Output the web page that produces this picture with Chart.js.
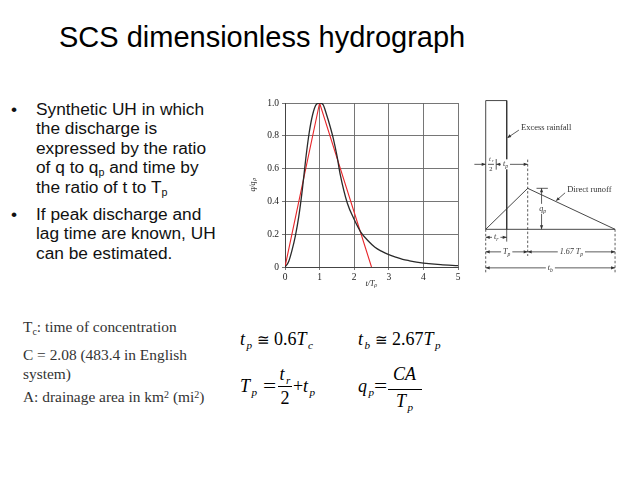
<!DOCTYPE html>
<html>
<head>
<meta charset="utf-8">
<script src="https://cdn.jsdelivr.net/npm/chart.js@4.4.0/dist/chart.umd.min.js"></script>
<style>
  html, body { margin:0; padding:0; background:#fff; }
  body { width:638px; height:478px; position:relative; overflow:hidden; }
  .abs { position:absolute; white-space:nowrap; }
  .title { font-family:"Liberation Sans", Arial, sans-serif; font-size:29px; line-height:30px; color:#000; }
  .bul { font-family:"Liberation Sans", Arial, sans-serif; font-size:17.3px; line-height:19.4px; color:#111; }
  .bul sub { font-size:0.62em; vertical-align:-0.25em; line-height:0; }
  .ser { font-family:"Liberation Serif", "Times New Roman", serif; font-size:15.4px; line-height:1; color:#333; }
  .ser sub { font-size:0.65em; vertical-align:-0.25em; line-height:0; }
  .ser sup { font-size:0.65em; vertical-align:0.45em; line-height:0; }
  .eq { font-family:"Liberation Serif", "Times New Roman", serif; font-size:18px; line-height:1; color:#000; }
  .eq i { font-style:italic; }
  .eq sub { font-size:0.62em; vertical-align:-0.35em; line-height:0; font-style:italic; margin-left:1.5px; }
  .wide { display:inline-block; transform:scaleX(1.3); transform-origin:left center; }
  .sym { font-family:"DejaVu Serif", serif; font-size:15px; }
  canvas { position:absolute; }
</style>
</head>
<body>
<div class="abs title" style="left:59px; top:22px;">SCS dimensionless hydrograph</div>

<div class="abs bul" style="left:11px; top:100px;">•</div>
<div class="abs bul" style="left:36px; top:100px;">Synthetic UH in which<br>the discharge is<br>expressed by the ratio<br>of q to q<sub>p</sub> and time by<br>the ratio of t to T<sub>p</sub></div>
<div class="abs bul" style="left:11px; top:205px;">•</div>
<div class="abs bul" style="left:36px; top:205px;">If peak discharge and<br>lag time are known, UH<br>can be estimated.</div>

<div class="abs ser" style="left:23px; top:319px;">T<sub>c</sub>: time of concentration</div>
<div class="abs ser" style="left:23px; top:347px;">C = 2.08 (483.4 in English</div>
<div class="abs ser" style="left:23px; top:366px;">system)</div>
<div class="abs ser" style="left:23px; top:389px;">A: drainage area in km<sup>2</sup> (mi<sup>2</sup>)</div>

<div class="abs eq" style="left:240px; top:330px;"><i>t</i><sub>p</sub> <span class="sym">≅</span> 0.6<i>T</i><sub>c</sub></div>
<div class="abs eq" style="left:358px; top:330px;"><i>t</i><sub>b</sub> <span class="sym">≅</span> 2.67<i>T</i><sub>p</sub></div>

<div class="abs eq" style="left:240px; top:377px;"><i>T</i><sub>p</sub></div>
<div class="abs eq" style="left:263px; top:377px;"><span class="wide">=</span></div>
<div class="abs eq" style="left:275px; top:365px; width:20px; text-align:center;"><i>t</i><sub>r</sub></div>
<div class="abs" style="left:278px; top:386px; width:14px; height:1px; background:#000;"></div>
<div class="abs eq" style="left:275px; top:389px; width:20px; text-align:center;">2</div>
<div class="abs eq" style="left:293px; top:377px;">+</div>
<div class="abs eq" style="left:303px; top:377px;"><i>t</i><sub>p</sub></div>

<div class="abs eq" style="left:358px; top:377px;"><i>q</i><sub>p</sub></div>
<div class="abs eq" style="left:374px; top:377px;"><span class="wide">=</span></div>
<div class="abs eq" style="left:386px; top:365px; width:37px; text-align:center;"><i>CA</i></div>
<div class="abs" style="left:388px; top:389px; width:34px; height:1px; background:#000;"></div>
<div class="abs eq" style="left:386px; top:392px; width:37px; text-align:center;"><i>T</i><sub>p</sub></div>

<canvas id="hydro" style="left:240px; top:92px;" width="225" height="200"></canvas>
<canvas id="schem" style="left:470px; top:90px;" width="160" height="200"></canvas>

<script>
// ---- Dimensionless unit hydrograph ----
const tRatio = [0,0.1,0.2,0.3,0.4,0.5,0.6,0.7,0.8,0.9,1.0,1.1,1.2,1.3,1.4,1.5,1.6,1.8,2.0,2.2,2.4,2.6,2.8,3.0,3.2,3.4,3.6,3.8,4.0,4.5,5.0];
const qRatio = [0,0.03,0.10,0.19,0.31,0.47,0.66,0.82,0.93,0.99,1.00,0.99,0.93,0.86,0.78,0.68,0.56,0.39,0.29,0.21,0.16,0.12,0.095,0.075,0.06,0.047,0.038,0.03,0.024,0.014,0.008];
// Triangular approximation (red)
const triT = [0, 1, 2.5];
const triQ = [0, 1, 0];
// Axis ticks
const xTicks = [0,1,2,3,4,5];
const yTicks = [0,0.2,0.4,0.6,0.8,1.0];

// ---- Schematic triangular UH (drawn units: Tp = 1, qp = 1) ----
const rainSpan = [0, 0.5];      // t_r
const rainDepth = 3.14;
const peakT = 1;                // T_p
const baseT = 3.08;             // t_b (as drawn)
const peakQ = 1;                // q_p

const serif = "'Liberation Serif', 'Times New Roman', serif";

new Chart(document.getElementById('hydro'), {
  type: 'scatter',
  data: {
    datasets: [
      { data: tRatio.map((t,i)=>({x:t, y:qRatio[i]})), showLine:true, borderColor:'#2a2a2a', borderWidth:1.3,
        pointRadius:0, cubicInterpolationMode:'monotone', fill:false },
      { data: triT.map((t,i)=>({x:t, y:triQ[i]})), showLine:true, borderColor:'#e8262a', borderWidth:1.1,
        pointRadius:0, tension:0, fill:false }
    ]
  },
  options: {
    responsive:false, animation:false, events:[],
    layout:{ padding:{ left:8, top:11, right:7, bottom:0 } },
    plugins:{ legend:{display:false}, tooltip:{enabled:false} },
    scales:{
      x:{ type:'linear', min:0, max:5,
          afterFit:(s)=>{ s.height = 25; },
          afterBuildTicks:(s)=>{ s.ticks = xTicks.map(v=>({value:v})); },
          ticks:{ font:{family:serif, size:9.5}, color:'#222', padding:2, maxRotation:0 },
          grid:{ color:'#666', lineWidth:0.9, tickLength:3, drawTicks:true },
          border:{ color:'#444', width:1 },
          title:{ display:true, text:'t/Tₚ', font:{family:serif, size:8, style:'italic'}, color:'#222', padding:{top:0,bottom:3} } },
      y:{ type:'linear', min:0, max:1,
          afterFit:(s)=>{ s.width = 37; },
          afterBuildTicks:(s)=>{ s.ticks = yTicks.map(v=>({value:v})); },
          ticks:{ font:{family:serif, size:9.5}, color:'#222', padding:3,
                  callback:(v)=> v===0 ? '0' : v.toFixed(1) },
          grid:{ color:'#666', lineWidth:0.9, tickLength:3, drawTicks:true },
          border:{ color:'#444', width:1 },
          title:{ display:true, text:'q/qₚ', font:{family:serif, size:8, style:'italic'}, color:'#222', padding:{top:0,bottom:0} } }
    }
  }
});

// Schematic annotations plugin
const schemPlugin = {
  id:'schem',
  afterDatasetsDraw(chart){
    const ctx = chart.ctx, xs = chart.scales.x, ys = chart.scales.y;
    const X = v=>xs.getPixelForValue(v), Y = v=>ys.getPixelForValue(v);
    const trRow=-0.195, TpRow=-0.55, tbRow=-0.94, topRow=1.585;
    ctx.save();
    ctx.strokeStyle='#333'; ctx.fillStyle='#333'; ctx.lineWidth=0.8;
    function line(x1,y1,x2,y2,dash){ ctx.beginPath(); ctx.setLineDash(dash||[]); ctx.moveTo(x1,y1); ctx.lineTo(x2,y2); ctx.stroke(); ctx.setLineDash([]); }
    function head(xt,yt,xf,yf){ const a=Math.atan2(yt-yf,xt-xf), L=4, W=1.6;
      ctx.beginPath(); ctx.moveTo(xt,yt);
      ctx.lineTo(xt-L*Math.cos(a)+W*Math.sin(a), yt-L*Math.sin(a)-W*Math.cos(a));
      ctx.lineTo(xt-L*Math.cos(a)-W*Math.sin(a), yt-L*Math.sin(a)+W*Math.cos(a));
      ctx.closePath(); ctx.fill(); }
    function dim(a,b,row){ const y=Y(row); line(X(a),y,X(b),y); head(X(a),y,X(b),y); head(X(b),y,X(a),y); }
    function label(txt,sub,x,y,bg,size){
      ctx.font='italic '+(size||8)+'px '+serif;
      const w1=ctx.measureText(txt).width;
      ctx.font='italic '+((size||8)*0.7)+'px '+serif;
      const w2=sub?ctx.measureText(sub).width:0;
      const w=w1+w2, x0=x-w/2;
      if(bg){ ctx.fillStyle='#fff'; ctx.fillRect(x0-2,y-5,w+4,10); ctx.fillStyle='#333'; }
      ctx.textBaseline='middle'; ctx.textAlign='left';
      ctx.font='italic '+(size||8)+'px '+serif; ctx.fillText(txt,x0,y);
      if(sub){ ctx.font='italic '+((size||8)*0.7)+'px '+serif; ctx.fillText(sub,x0+w1,y+2.5); }
    }
    // extension lines
    line(X(peakT),Y(1.7),X(peakT),Y(-0.65),[2.5,2]);
    line(X(baseT),Y(0),X(baseT),Y(-1.05),[2.5,2]);
    line(X(rainSpan[0]),Y(0),X(rainSpan[0]),Y(-1.05),[2.5,2]);
    line(X(rainSpan[1]),Y(0),X(rainSpan[1]),Y(-0.3));
    // dimension lines
    dim(rainSpan[0],rainSpan[1],trRow); label('t','r',X(0.25),Y(trRow),true);
    dim(0,peakT,TpRow); label('T','p',X(0.5),Y(TpRow),true);
    dim(peakT,baseT,TpRow); label('1.67 T','p',X((peakT+baseT)/2),Y(TpRow),true);
    dim(0,baseT,tbRow); label('t','b',X(baseT/2),Y(tbRow),true);
    // top row: t_r/2 and t_p
    const half=(rainSpan[0]+rainSpan[1])/2;
    line(X(-0.27),Y(topRow),X(0),Y(topRow)); head(X(0),Y(topRow),X(-0.27),Y(topRow));
    line(X(half),Y(topRow+0.13),X(half),Y(topRow-0.13));
    dim(half,peakT,topRow); label('t','p',X(0.47),Y(topRow),true);
    // fraction t_r / 2
    ctx.fillStyle='#333'; ctx.font='italic 6.5px '+serif; ctx.textAlign='center'; ctx.textBaseline='middle';
    ctx.fillText('t',X(half/2)-1,Y(topRow)-5); ctx.font='italic 4.5px '+serif; ctx.fillText('r',X(half/2)+1.8,Y(topRow)-3.8);
    line(X(half/2)-3,Y(topRow),X(half/2)+3,Y(topRow));
    ctx.font='6.5px '+serif; ctx.fillText('2',X(half/2),Y(topRow)+4.5);
    // q_p marker
    line(X(1.21),Y(peakQ),X(1.48),Y(peakQ));
    const qx=X(1.33); line(qx,Y(peakQ),qx,Y(0)); head(qx,Y(peakQ),qx,Y(0)); head(qx,Y(0),qx,Y(peakQ));
    label('q','p',qx+1,Y(0.5),true);
    // callouts
    ctx.fillStyle='#333';
    ctx.font='8.5px '+serif; ctx.textAlign='left'; ctx.textBaseline='middle';
    ctx.fillText('Excess rainfall',X(0.84),Y(2.48));
    line(X(0.79),Y(2.42),X(0.53),Y(2.24)); head(X(0.51),Y(2.23),X(0.79),Y(2.42));
    ctx.fillText('Direct runoff',X(1.94),Y(0.96));
    line(X(1.89),Y(0.89),X(1.69),Y(0.71)); head(X(1.67),Y(0.69),X(1.89),Y(0.89));
    ctx.restore();
  }
};

new Chart(document.getElementById('schem'), {
  type:'scatter',
  data:{ datasets:[
    { data:[{x:rainSpan[0],y:0},{x:rainSpan[0],y:rainDepth},{x:rainSpan[1],y:rainDepth},{x:rainSpan[1],y:0}],
      showLine:true, borderColor:'#333', borderWidth:0.9, pointRadius:0, tension:0 },
    { data:[{x:0,y:0},{x:peakT,y:peakQ},{x:baseT,y:0}],
      showLine:true, borderColor:'#333', borderWidth:0.9, pointRadius:0, tension:0 },
    { data:[{x:0,y:0},{x:baseT,y:0}],
      showLine:true, borderColor:'#333', borderWidth:0.9, pointRadius:0, tension:0 }
  ]},
  options:{
    responsive:false, animation:false, events:[],
    layout:{ padding:0 },
    plugins:{ legend:{display:false}, tooltip:{enabled:false} },
    scales:{
      x:{ type:'linear', display:false, min:-0.374, max:3.436 },
      y:{ type:'linear', display:false, min:-1.48, max:3.398 }
    }
  },
  plugins:[schemPlugin]
});
</script>
</body>
</html>
